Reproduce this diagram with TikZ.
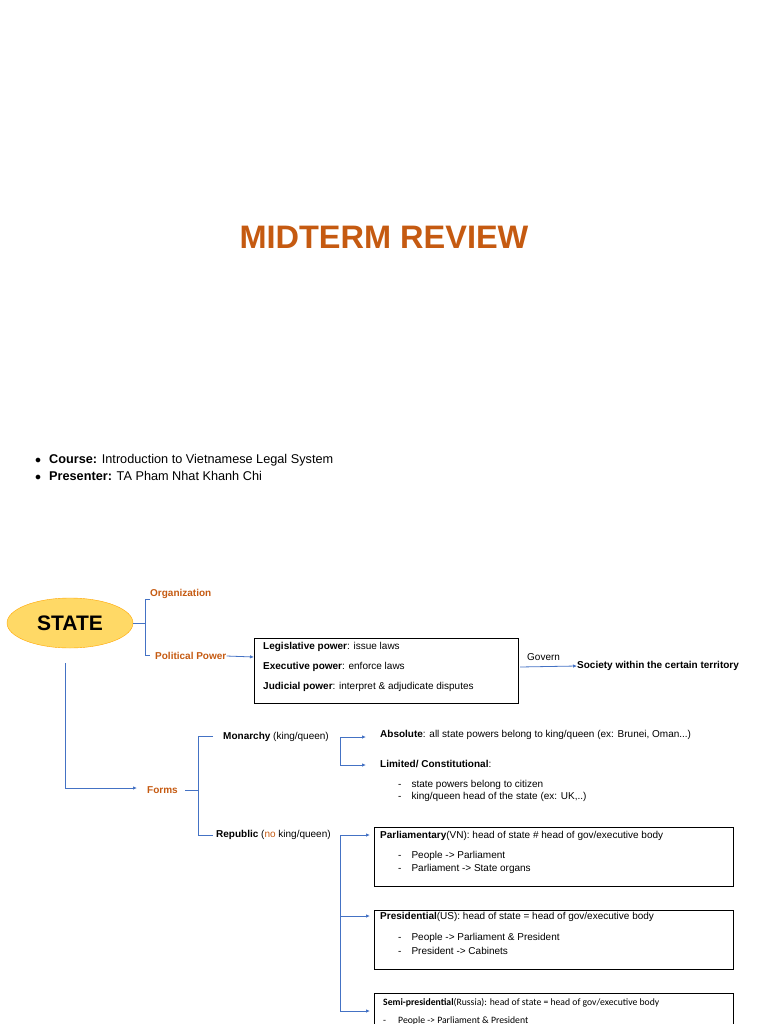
\documentclass[tikz,border=0pt]{standalone}
\usepackage{fontspec}
\setmainfont{Liberation Sans}
\newfontfamily\carl{Carlito}
\usetikzlibrary{arrows.meta,shapes.geometric}
\definecolor{org}{HTML}{C55A11}
\definecolor{lb}{HTML}{4472C4}
\definecolor{yel}{HTML}{FFD966}
\begin{document}
\begin{tikzpicture}[x=1pt,y=-1pt,
 ln/.style={draw=lb,line width=0.8pt},
 ar/.style={draw=lb,line width=0.8pt,-{Latex[length=4pt,width=3.5pt,fill=lb]}},
 tx/.style={anchor=west,inner sep=0pt,font=\fontsize{10}{12}\selectfont},
 ot/.style={tx,text=org,font=\fontsize{10}{12}\selectfont\bfseries},
 bx/.style={draw=black,line width=0.7pt}]
\useasboundingbox (0,0) rectangle (768,1024);
\node[text=org,font=\fontsize{32.5}{36}\selectfont\bfseries] (title) at (384,237) {MIDTERM REVIEW};
\node[tx,font=\fontsize{12.7}{15}\selectfont] (c1) at (35,460) {$\bullet$\hspace{8pt}\textbf{Course:} Introduction to Vietnamese Legal System};
\node[tx,font=\fontsize{12.7}{15}\selectfont] (c2) at (35,476) {$\bullet$\hspace{8pt}\textbf{Presenter:} TA Pham Nhat Khanh Chi};
% state
\node[ellipse,draw=orange!70!yellow,fill=yel,minimum width=126pt,minimum height=50pt,font=\fontsize{21}{24}\selectfont\bfseries] (state) at (70,623) {STATE};
\node[ot] (org) at (150,594) {Organization};
\node[ot] (pp) at (155,656) {Political Power};
\draw[ln] (state.east) -- (145,623);
\draw[ln] (150,599) -- (145,599) -- (145,655) -- (150,655);
\draw[bx] (254,638) rectangle (518,703);
\node[tx] (l1) at (263,647) {\textbf{Legislative power}: issue laws};
\node[tx] (l2) at (263,667) {\textbf{Executive power}: enforce laws};
\node[tx] (l3) at (263,687) {\textbf{Judicial power}: interpret \& adjudicate disputes};
\draw[ar] (pp.east) -- (254,657);
\node[tx] (gov) at (527,657) {Govern};
\node[tx,font=\fontsize{10}{12}\selectfont\bfseries] (soc) at (577,666) {Society within the certain territory};
\draw[ar] (520,667) -- (soc.west);
% forms
\node[ot] (forms) at (147,790) {Forms};
\draw[ar] (65,663) -- (65,788) -- (137,788);
\draw[ln] (185,790) -- (198,790);
\draw[ln] (213,736) -- (198,736) -- (198,835) -- (213,835);
\node[tx] (mon) at (223,737) {\textbf{Monarchy} (king/queen)};
\node[tx] (rep) at (216,835) {\textbf{Republic} (\textcolor{org}{no} king/queen)};
\draw[ar] (340,737) -- (366,737);
\draw[ar] (340,737) -- (340,765) -- (366,765);
\node[tx] (abs) at (380,735) {\textbf{Absolute}: all state powers belong to king/queen (ex: Brunei, Oman...)};
\node[tx] (lim) at (380,764) {\textbf{Limited/ Constitutional}:};
\node[tx] (lim1) at (398,785) {-\hspace{10pt}state powers belong to citizen};
\node[tx] (lim2) at (398,797) {-\hspace{10pt}king/queen head of the state (ex: UK,..)};
% republic
\draw[ar] (340,835) -- (370,835);
\draw[ar] (340,835) -- (340,916) -- (370,916);
\draw[ar] (340,916) -- (340,1011) -- (370,1011);
\draw[bx] (374,827) rectangle (733,886);
\draw[bx] (374,910) rectangle (733,969);
\draw[bx] (374,993) rectangle (733,1040);
\node[tx] (p0) at (380,836) {\textbf{Parliamentary}(VN): head of state \# head of gov/executive body};
\node[tx] (p1) at (398,856) {-\hspace{10pt}People -> Parliament};
\node[tx] (p2) at (398,869) {-\hspace{10pt}Parliament -> State organs};
\node[tx] (q0) at (380,917) {\textbf{Presidential}(US): head of state = head of gov/executive body};
\node[tx] (q1) at (398,938) {-\hspace{10pt}People -> Parliament \& President};
\node[tx] (q2) at (398,951) {-\hspace{10pt}President -> Cabinets};
\node[tx,font=\carl\fontsize{9.7}{11}\selectfont] (s0) at (383,1003) {\textbf{Semi-presidential}(Russia): head of state = head of gov/executive body};
\node[tx,font=\carl\fontsize{9.7}{11}\selectfont] (s1) at (383,1021) {-\hspace{12pt}People -> Parliament \& President};
\end{tikzpicture}
\end{document}
